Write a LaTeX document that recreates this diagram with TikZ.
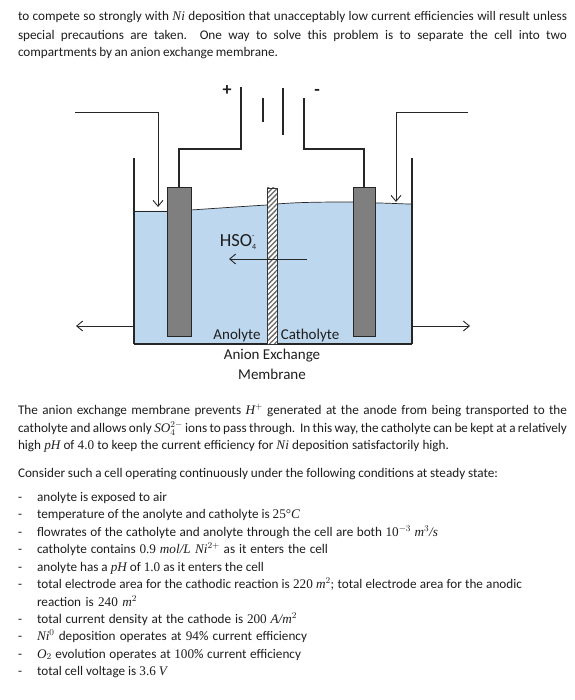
\documentclass[tikz,border=0pt]{standalone}
\usepackage{fontspec}
\setmainfont{Carlito}
\newfontfamily\serifmath{Liberation Serif}
\usetikzlibrary{arrows.meta,patterns.meta}
\newcommand{\mi}[1]{{\serifmath\itshape #1}}
\newcommand{\mr}[1]{{\serifmath #1}}
\definecolor{liquid}{HTML}{BDD7EE}
\definecolor{steel}{HTML}{7F7F7F}
\definecolor{ink}{HTML}{1E1E1E}
\tikzset{
  txt/.style={anchor=base west,inner sep=0pt,outer sep=0pt,text=ink,font=\fontsize{13.2}{15}\selectfont},
  lbl/.style={inner sep=0pt,outer sep=0pt,text=ink,font=\fontsize{15}{17}\selectfont},
  electrode/.style={draw=black!85,fill=steel,line width=1pt,inner sep=0pt,outer sep=0pt,minimum width=24pt,minimum height=148pt},
  wire/.style={draw=black!85,line width=1.3pt},
  pipe/.style={draw=black!85,line width=0.8pt},
  flow/.style={draw=black!85,line width=0.9pt,-{Straight Barb[length=6pt,width=10pt,line width=0.9pt]}}
}
\newcommand{\tline}[4]{\node[txt] (#1) at (#2) {\makebox[#3pt][s]{#4}};}
\begin{document}
\begin{tikzpicture}[x=1pt,y=-1pt]
\useasboundingbox (0,0) rectangle (574,700);
\fill[white] (0,0) rectangle (574,700);
% paragraph 1
\tline{a1}{18,21}{549}{to compete so strongly with \mi{Ni} deposition that unacceptably low current efficiencies will result unless}
\tline{a2}{18,40}{549}{special precautions are taken.\ \ One way to solve this problem is to separate the cell into two}
\tline{a3}{18,57}{260}{compartments by an anion exchange membrane.}
% liquid
\fill[liquid] (134,211) -- (167,211) -- (191,210) .. controls (220,208) and (250,206) .. (267,205) -- (277,204) .. controls (300,202) and (330,202) .. (353,202) -- (375,203) .. controls (390,203) and (400,204) .. (412,204) -- (412,344) -- (134,344) -- cycle;
\draw[pipe,line width=0.7pt] (134,211) -- (167,211);
\draw[pipe,line width=0.7pt] (191,210) .. controls (220,208) and (250,206) .. (267,205);
\draw[pipe,line width=0.7pt] (277,204) .. controls (300,202) and (330,202) .. (353,202);
\draw[pipe,line width=0.7pt] (375,203) .. controls (390,203) and (400,204) .. (412,204);
% tank
\coordinate (tl) at (134,158);
\coordinate (bl) at (134,344);
\coordinate (br) at (412,344);
\coordinate (tr) at (412,158);
\draw[wire] (tl) -- (bl);
\draw[wire] (tr) -- (br);
\draw[draw=black!85,line width=2pt] (bl) -- (br);
% electrodes
\node[electrode] (anode) at (179,262) {};
\node[electrode,minimum width=22pt] (cathode) at (364,262) {};
% membrane
\node[draw=black!80,preaction={fill=white},pattern={Lines[angle=45,distance=3.6pt,line width=1.3pt]},pattern color=black!60,line width=0.7pt,inner sep=0pt,outer sep=0pt,minimum width=10pt,minimum height=156pt] (mem) at (272,266) {};
% battery
\coordinate (pa) at (241,87);
\coordinate (pb) at (304,98);
\coordinate (p1) at (263,98);
\coordinate (p2) at (263,122);
\coordinate (p3) at (283,88);
\coordinate (p4) at (283,135);
\draw[wire,line cap=butt] (anode.north) |- (pa |- 0,149) -- (pa);
\draw[wire] (cathode.north) |- (pb |- 0,149) -- (pb);
\draw[wire,line width=1.5pt] (p1) -- (p2);
\draw[wire,line width=1.5pt] (p3) -- (p4);
\node[lbl,font=\bfseries\fontsize{18}{19}\selectfont] (plus) at (227,91) {+};
\node[lbl,font=\bfseries\fontsize{18}{19}\selectfont] (minus) at (317,92) {-};
% inlets and outlets
\coordinate (i1) at (75,112);
\coordinate (i1d) at (158,207);
\coordinate (i2) at (468,112);
\coordinate (i2d) at (396,202);
\coordinate (o1a) at (134,326);
\coordinate (o1) at (76,326);
\coordinate (o2a) at (412,326);
\coordinate (o2) at (470,326);
\draw[flow] (i1) -| (i1d);
\draw[flow] (i2) -| (i2d);
\draw[flow] (o1a) -- (o1);
\draw[flow] (o2a) -- (o2);
% ion transport
\coordinate (h1) at (307,259);
\coordinate (h2) at (229,259);
\draw[flow] (h1) -- (h2);
\node[lbl,font=\fontsize{18.5}{20}\selectfont] (hso) at (238,242) {HSO\rlap{\raisebox{0.4em}{\footnotesize -}}\raisebox{-0.2em}{\footnotesize 4}};
\node[lbl] (ano) at (237,335) {Anolyte};
\node[lbl] (cat) at (310,335) {Catholyte};
\node[lbl] (ae) at (272,356) {Anion Exchange};
\node[lbl] (mb) at (272,374) {Membrane};
% paragraph 2
\tline{b1}{18,414}{549}{The anion exchange membrane prevents \mi{H}$^{+}$ generated at the anode from being transported to the}
\tline{b2}{18,432}{549}{catholyte and allows only \mi{SO}$_{4}^{2-}$ ions to pass through.\ \ In this way, the catholyte can be kept at a relatively}
\tline{b3}{18,449}{431}{high \mi{pH} of \mr{4.0} to keep the current efficiency for \mi{Ni} deposition satisfactorily high.}
\tline{b4}{18,477}{480}{Consider such a cell operating continuously under the following conditions at steady state:}
% list
\foreach \n/\y in {1/501,2/518,3/536,4/553,5/571,6/588,7/623,8/640,9/658,10/675}{\node[txt] (d\n) at (18,\y) {-};}
\tline{c1}{37,501}{130}{anolyte is exposed to air}
\tline{c2}{37,518}{263}{temperature of the anolyte and catholyte is \mr{25°}\mi{C}}
\tline{c3}{37,536}{401}{flowrates of the catholyte and anolyte through the cell are both \mr{10}$^{-3}$ \mi{m}$^{3}$\mi{/s}}
\tline{c4}{37,553}{291}{catholyte contains \mr{0.9} \mi{mol/L Ni}$^{2+}$ as it enters the cell}
\tline{c5}{37,571}{227}{anolyte has a \mi{pH} of \mr{1.0} as it enters the cell}
\tline{c6}{37,588}{485}{total electrode area for the cathodic reaction is \mr{220} \mi{m}$^{2}$; total electrode area for the anodic}
\tline{c6b}{37,606}{100}{reaction is \mr{240} \mi{m}$^{2}$}
\tline{c7}{37,623}{260}{total current density at the cathode is \mr{200} \mi{A/m}$^{2}$}
\tline{c8}{37,640}{270}{\mi{Ni}$^{0}$ deposition operates at \mr{94}\% current efficiency}
\tline{c9}{37,658}{264}{\mi{O}$_{2}$ evolution operates at \mr{100}\% current efficiency}
\tline{c10}{37,675}{130}{total cell voltage is \mr{3.6} \mi{V}}
\end{tikzpicture}
\end{document}
